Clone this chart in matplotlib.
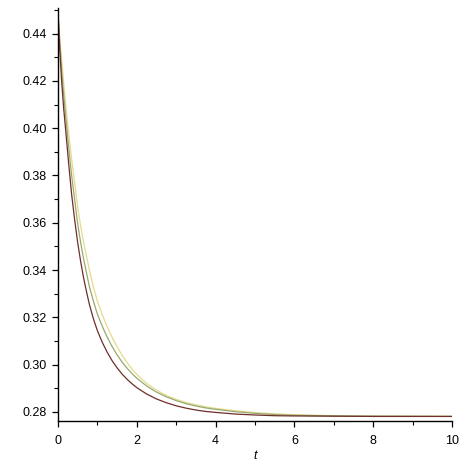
import matplotlib
matplotlib.use("Agg")
import matplotlib.pyplot as plt
from matplotlib.ticker import MultipleLocator, FormatStrFormatter

plt.rcParams['font.family'] = ['Liberation Sans', 'DejaVu Sans']

# values
t = [0, 0.05, 0.1, 0.15, 0.2, 0.275, 0.35, 0.425, 0.5, 0.575, 0.65, 0.725,
     0.8, 0.9, 1.0, 1.125, 1.25, 1.375, 1.5, 1.625, 1.75, 1.875, 2.0, 2.25,
     2.5, 2.75, 3.0, 3.25, 3.5, 3.75, 4.0, 4.5, 5.0, 5.5, 6.0, 7.0, 8.0, 10.0]
curve_dark = [0.450, 0.433, 0.419, 0.408, 0.399, 0.385, 0.372, 0.3615, 0.352,
              0.344, 0.337, 0.331, 0.3255, 0.3195, 0.3145, 0.3095, 0.3053,
              0.3017, 0.2987, 0.2961, 0.2939, 0.2920, 0.2903, 0.2876, 0.2855,
              0.2839, 0.2826, 0.2816, 0.2808, 0.2802, 0.2798, 0.2791, 0.2787,
              0.2784, 0.2783, 0.2782, 0.2781, 0.2781]
curve_mid = [0.450, 0.436, 0.424, 0.414, 0.405, 0.392, 0.380, 0.370, 0.360,
             0.352, 0.345, 0.339, 0.333, 0.327, 0.3215, 0.3163, 0.3117,
             0.3077, 0.3042, 0.3012, 0.2986, 0.2963, 0.2943, 0.2910, 0.2884,
             0.2864, 0.2848, 0.2835, 0.2825, 0.2817, 0.2811, 0.2801, 0.2794,
             0.2789, 0.2786, 0.2783, 0.2782, 0.2781]
curve_light = [0.450, 0.438, 0.428, 0.419, 0.410, 0.398, 0.387, 0.377, 0.367,
               0.359, 0.352, 0.346, 0.340, 0.333, 0.327, 0.3212, 0.3161,
               0.3116, 0.3076, 0.3041, 0.3010, 0.2983, 0.2959, 0.2921, 0.2892,
               0.2870, 0.2853, 0.2840, 0.2830, 0.2822, 0.2815, 0.2805, 0.2797,
               0.2792, 0.2788, 0.2784, 0.2782, 0.2781]

fig = plt.figure(figsize=(4.74, 4.74), dpi=100)
ax = fig.add_axes([0.122, 0.112, 0.832, 0.871])

ax.plot(t, curve_light, color='#e2dc8c', lw=0.9)
ax.plot(t, curve_mid, color='#9aa870', lw=0.9)
ax.plot(t, curve_dark, color='#6e2f2a', lw=0.9)

ax.set_xlim(0, 10)
ax.set_ylim(0.2762, 0.4508)

ax.xaxis.set_major_locator(MultipleLocator(2))
ax.xaxis.set_minor_locator(MultipleLocator(1))
ax.yaxis.set_major_locator(MultipleLocator(0.02))
ax.yaxis.set_minor_locator(MultipleLocator(0.01))
ax.yaxis.set_major_formatter(FormatStrFormatter('%.2f'))

for side in ['top', 'right']:
    ax.spines[side].set_visible(False)
ax.spines['left'].set_linewidth(1.0)
ax.spines['bottom'].set_linewidth(1.0)
ax.tick_params(which='major', length=4, width=0.9, labelsize=9)
ax.tick_params(axis='y', pad=4)
ax.tick_params(axis='x', pad=6)
ax.tick_params(which='minor', length=3, width=0.8)

ax.set_xlabel('t', fontstyle='italic', fontsize=9, labelpad=2)

fig.savefig('out.png', dpi=100)
